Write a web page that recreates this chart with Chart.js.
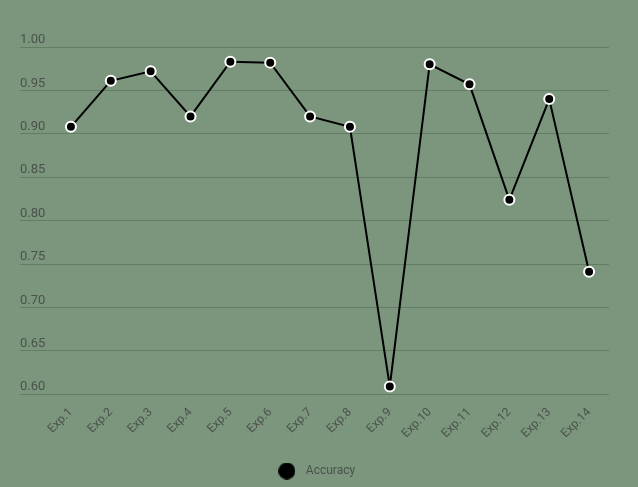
<!DOCTYPE html>
<html>
<head>
<meta charset="utf-8">
<script src="https://cdn.jsdelivr.net/npm/chart.js@4"></script>
<style>
  html, body { margin: 0; padding: 0; background: #7b967d; }
  #wrap { width: 638px; height: 487px; position: relative; }
</style>
</head>
<body>
<div id="wrap"><canvas id="chart"></canvas></div>
<script>
// data
const labels = ['Exp.1', 'Exp.2', 'Exp.3', 'Exp.4', 'Exp.5', 'Exp.6', 'Exp.7',
                'Exp.8', 'Exp.9', 'Exp.10', 'Exp.11', 'Exp.12', 'Exp.13', 'Exp.14'];
const accuracy = [0.908, 0.961, 0.972, 0.920, 0.983, 0.982, 0.920,
                  0.908, 0.609, 0.980, 0.957, 0.824, 0.940, 0.741];
const yMin = 0.6;
const yMax = 1.0;
const yStep = 0.05;

const textColor = '#4b524b';
const gridColor = 'rgba(40, 60, 40, 0.28)';

Chart.defaults.font.family = 'Roboto, "Noto Sans", sans-serif';

// plain black dot for the legend (no white ring)
const dot = document.createElement('canvas');
dot.width = 17;
dot.height = 17;
const dctx = dot.getContext('2d');
dctx.fillStyle = '#000';
dctx.beginPath();
dctx.arc(8.5, 8.5, 8.5, 0, Math.PI * 2);
dctx.fill();

new Chart(document.getElementById('chart'), {
    type: 'line',
    data: {
        labels: labels,
        datasets: [{
            label: 'Accuracy',
            data: accuracy,
            borderColor: '#000',
            backgroundColor: '#000',
            borderWidth: 2,
            tension: 0,
            pointRadius: 5,
            pointHoverRadius: 5,
            pointBackgroundColor: '#000',
            pointBorderColor: '#fff',
            pointBorderWidth: 2
        }]
    },
    options: {
        responsive: true,
        maintainAspectRatio: false,
        animation: false,
        layout: { padding: { left: 20, right: 29, top: 47, bottom: 0 } },
        scales: {
            x: {
                offset: true,
                grid: { display: false },
                border: { display: false },
                afterFit(scale) { scale.height += 11; },
                ticks: {
                    color: textColor,
                    font: { size: 12 },
                    minRotation: 45,
                    maxRotation: 45
                }
            },
            y: {
                min: yMin,
                max: yMax,
                border: { display: false },
                grid: { color: gridColor, lineWidth: 1, tickLength: 31 },
                afterFit(scale) { scale.width = 31; },
                ticks: {
                    stepSize: yStep,
                    mirror: true,
                    padding: -31,
                    labelOffset: -7,
                    color: textColor,
                    font: { size: 13 },
                    callback: v => v.toFixed(2)
                }
            }
        },
        plugins: {
            legend: {
                position: 'bottom',
                labels: {
                    usePointStyle: true,
                    pointStyleWidth: 26,
                    color: textColor,
                    font: { size: 12 },
                    padding: 10,
                    generateLabels(chart) {
                        return chart.data.datasets.map((ds, i) => ({
                            text: ds.label,
                            pointStyle: dot,
                            fillStyle: '#000',
                            strokeStyle: '#000',
                            lineWidth: 0,
                            fontColor: textColor,
                            hidden: !chart.isDatasetVisible(i),
                            datasetIndex: i
                        }));
                    }
                }
            },
            tooltip: { enabled: false }
        }
    }
});
</script>
</body>
</html>
